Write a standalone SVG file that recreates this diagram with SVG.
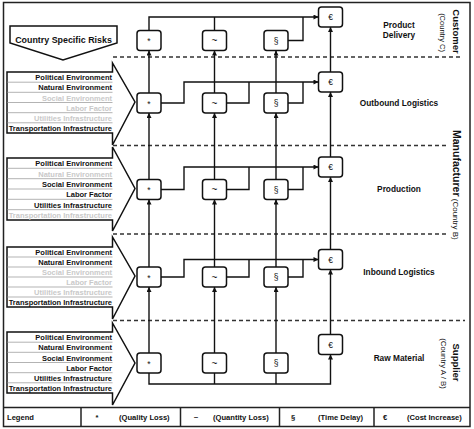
<svg xmlns="http://www.w3.org/2000/svg" width="474" height="429" viewBox="0 0 474 429">
<defs>
<style>
text{font-family:'Liberation Sans',Arial,sans-serif;fill:#111}
.frame{fill:none;stroke:#222;stroke-width:1.5}
.box{fill:#fff;stroke:#111;stroke-width:1.5}
.sym{font-size:8.5px;text-anchor:middle}
.tl{font-size:10px}
.con{fill:none;stroke:#111;stroke-width:1.4}
.dash{fill:none;stroke:#333;stroke-width:1.3;stroke-dasharray:4 3}
.arrowbody{fill:#fff;stroke:#111;stroke-width:1.5}
.sep{stroke:#aaa;stroke-width:0.9}
.risk{font-size:7.5px;font-weight:bold;text-anchor:end}
.off{fill:#c9c9c9}
.stage{font-size:8.3px;font-weight:bold;text-anchor:middle}
.leg{font-size:7.6px;font-weight:bold}
</style>
<marker id="ah" viewBox="0 0 6 6" refX="6" refY="3" markerWidth="6" markerHeight="5" markerUnits="userSpaceOnUse" orient="auto">
<path d="M0,0 L6,3 L0,6 z" fill="#111"/>
</marker>
</defs>
<rect width="474" height="429" fill="#fff"/>
<rect class="frame" x="3.5" y="2.5" width="466.5" height="424"/>

<g id="dashed-lines">
<line class="dash" x1="113" y1="57" x2="463" y2="57"/>
<line class="dash" x1="113" y1="145.5" x2="449" y2="145.5"/>
<line class="dash" x1="113" y1="234" x2="449" y2="234"/>
<line class="dash" x1="113" y1="320.5" x2="465" y2="320.5"/>
</g>

<g id="country-specific-risks">
<path class="arrowbody" d="M10,26 H117 V43 L63,60 L10,43 Z"/>
<text x="63.5" y="42.5" font-size="8.9" font-weight="bold" text-anchor="middle">Country Specific Risks</text>
</g>

<g id="risks-outbound">
<path class="arrowbody" d="M7,72 H112.5 V63 L135,102 L112.5,145 V133 H7 Z"/>
<line class="sep" x1="7.5" y1="82.2" x2="112.5" y2="82.2"/>
<line class="sep" x1="7.5" y1="92.3" x2="112.5" y2="92.3"/>
<line class="sep" x1="7.5" y1="102.5" x2="112.5" y2="102.5"/>
<line class="sep" x1="7.5" y1="112.7" x2="112.5" y2="112.7"/>
<line class="sep" x1="7.5" y1="122.8" x2="112.5" y2="122.8"/>
<text class="risk" x="112" y="80.2">Political Environment</text>
<text class="risk" x="112" y="90.3">Natural Environment</text>
<text class="risk off" x="112" y="100.5">Social Environment</text>
<text class="risk off" x="112" y="110.7">Labor Factor</text>
<text class="risk off" x="112" y="120.8">Utilities Infrastructure</text>
<text class="risk" x="112" y="131">Transportation Infrastructure</text>
</g>

<g id="risks-production">
<path class="arrowbody" d="M7,158 H112.5 V147 L135,188.5 L112.5,231 V220 H7 Z"/>
<line class="sep" x1="7.5" y1="168.3" x2="112.5" y2="168.3"/>
<line class="sep" x1="7.5" y1="178.7" x2="112.5" y2="178.7"/>
<line class="sep" x1="7.5" y1="189" x2="112.5" y2="189"/>
<line class="sep" x1="7.5" y1="199.3" x2="112.5" y2="199.3"/>
<line class="sep" x1="7.5" y1="209.7" x2="112.5" y2="209.7"/>
<text class="risk" x="112" y="166.3">Political Environment</text>
<text class="risk off" x="112" y="176.7">Natural Environment</text>
<text class="risk" x="112" y="187">Social Environment</text>
<text class="risk" x="112" y="197.3">Labor Factor</text>
<text class="risk" x="112" y="207.7">Utilities Infrastructure</text>
<text class="risk off" x="112" y="218">Transportation Infrastructure</text>
</g>

<g id="risks-inbound">
<path class="arrowbody" d="M7,247 H112.5 V237 L135,276 L112.5,319 V307 H7 Z"/>
<line class="sep" x1="7.5" y1="257" x2="112.5" y2="257"/>
<line class="sep" x1="7.5" y1="267" x2="112.5" y2="267"/>
<line class="sep" x1="7.5" y1="277" x2="112.5" y2="277"/>
<line class="sep" x1="7.5" y1="287" x2="112.5" y2="287"/>
<line class="sep" x1="7.5" y1="297" x2="112.5" y2="297"/>
<text class="risk" x="112" y="255">Political Environment</text>
<text class="risk" x="112" y="265">Natural Environment</text>
<text class="risk off" x="112" y="275">Social Environment</text>
<text class="risk off" x="112" y="285">Labor Factor</text>
<text class="risk off" x="112" y="295">Utilities Infrastructure</text>
<text class="risk" x="112" y="305">Transportation Infrastructure</text>
</g>

<g id="risks-raw">
<path class="arrowbody" d="M7,332 H112.5 V323 L135,363 L112.5,405 V393 H7 Z"/>
<line class="sep" x1="7.5" y1="342.2" x2="112.5" y2="342.2"/>
<line class="sep" x1="7.5" y1="352.3" x2="112.5" y2="352.3"/>
<line class="sep" x1="7.5" y1="362.5" x2="112.5" y2="362.5"/>
<line class="sep" x1="7.5" y1="372.7" x2="112.5" y2="372.7"/>
<line class="sep" x1="7.5" y1="382.8" x2="112.5" y2="382.8"/>
<text class="risk" x="112" y="340.2">Political Environment</text>
<text class="risk" x="112" y="350.3">Natural Environment</text>
<text class="risk" x="112" y="360.5">Social Environment</text>
<text class="risk" x="112" y="370.7">Labor Factor</text>
<text class="risk" x="112" y="380.8">Utilities Infrastructure</text>
<text class="risk" x="112" y="391">Transportation Infrastructure</text>
</g>

<g id="connectors">
<path class="con" d="M149,353 V287" marker-end="url(#ah)"/>
<path class="con" d="M149,267 V199.5" marker-end="url(#ah)"/>
<path class="con" d="M149,179.5 V113" marker-end="url(#ah)"/>
<path class="con" d="M149,93 V50.5" marker-end="url(#ah)"/>
<path class="con" d="M214.5,353 V287" marker-end="url(#ah)"/>
<path class="con" d="M214.5,267 V199.5" marker-end="url(#ah)"/>
<path class="con" d="M214.5,179.5 V113" marker-end="url(#ah)"/>
<path class="con" d="M214.5,93 V50.5" marker-end="url(#ah)"/>
<path class="con" d="M276,353 V287" marker-end="url(#ah)"/>
<path class="con" d="M276,267 V199.5" marker-end="url(#ah)"/>
<path class="con" d="M276,179.5 V113" marker-end="url(#ah)"/>
<path class="con" d="M276,93 V50.5" marker-end="url(#ah)"/>
<path class="con" d="M330.5,334.5 V269.5" marker-end="url(#ah)"/>
<path class="con" d="M330.5,249.5 V177" marker-end="url(#ah)"/>
<path class="con" d="M330.5,157 V92" marker-end="url(#ah)"/>
<path class="con" d="M330.5,72 V27" marker-end="url(#ah)"/>
<path class="con" d="M149,30.5 V17 H318.5" marker-end="url(#ah)"/>
<path class="con" d="M214.5,30.5 V17"/>
<path class="con" d="M288,40.5 H303 V17"/>
<path class="con" d="M161,103 H184 V82 H318.5" marker-end="url(#ah)"/>
<path class="con" d="M226.5,103 H249 V82"/>
<path class="con" d="M288,103 H303 V82"/>
<path class="con" d="M161,189.5 H184 V167 H318.5" marker-end="url(#ah)"/>
<path class="con" d="M226.5,189.5 H249 V167"/>
<path class="con" d="M288,189.5 H303 V167"/>
<path class="con" d="M161,277 H184 V259.5 H318.5" marker-end="url(#ah)"/>
<path class="con" d="M226.5,277 H249 V259.5"/>
<path class="con" d="M288,277 H303 V259.5"/>
<path class="con" d="M149,373 V384 H330.5 V354.5" marker-end="url(#ah)"/>
<path class="con" d="M214.5,373 V384"/>
<path class="con" d="M276,373 V384"/>
</g>

<g id="row1-boxes">
<g id="q1"><rect class="box" x="137" y="30.5" width="24" height="20" rx="3"/><text class="sym" x="149" y="44">*</text></g>
<g id="n1"><rect class="box" x="202.5" y="30.5" width="24" height="20" rx="3"/><text class="sym tl" x="214.5" y="44">~</text></g>
<g id="t1"><rect class="box" x="264" y="30.5" width="24" height="20" rx="3"/><text class="sym" x="276" y="43.5">§</text></g>
<g id="c1"><rect class="box" x="318.5" y="7" width="24" height="20" rx="3"/><text class="sym" x="330.5" y="20">€</text></g>
</g>
<g id="row2-boxes">
<g id="q2"><rect class="box" x="137" y="93" width="24" height="20" rx="3"/><text class="sym" x="149" y="106.5">*</text></g>
<g id="n2"><rect class="box" x="202.5" y="93" width="24" height="20" rx="3"/><text class="sym tl" x="214.5" y="106.5">~</text></g>
<g id="t2"><rect class="box" x="264" y="93" width="24" height="20" rx="3"/><text class="sym" x="276" y="106">§</text></g>
<g id="c2"><rect class="box" x="318.5" y="72" width="24" height="20" rx="3"/><text class="sym" x="330.5" y="85">€</text></g>
</g>
<g id="row3-boxes">
<g id="q3"><rect class="box" x="137" y="179.5" width="24" height="20" rx="3"/><text class="sym" x="149" y="193">*</text></g>
<g id="n3"><rect class="box" x="202.5" y="179.5" width="24" height="20" rx="3"/><text class="sym tl" x="214.5" y="193">~</text></g>
<g id="t3"><rect class="box" x="264" y="179.5" width="24" height="20" rx="3"/><text class="sym" x="276" y="192.5">§</text></g>
<g id="c3"><rect class="box" x="318.5" y="157" width="24" height="20" rx="3"/><text class="sym" x="330.5" y="170">€</text></g>
</g>
<g id="row4-boxes">
<g id="q4"><rect class="box" x="137" y="267" width="24" height="20" rx="3"/><text class="sym" x="149" y="280.5">*</text></g>
<g id="n4"><rect class="box" x="202.5" y="267" width="24" height="20" rx="3"/><text class="sym tl" x="214.5" y="280.5">~</text></g>
<g id="t4"><rect class="box" x="264" y="267" width="24" height="20" rx="3"/><text class="sym" x="276" y="280">§</text></g>
<g id="c4"><rect class="box" x="318.5" y="249.5" width="24" height="20" rx="3"/><text class="sym" x="330.5" y="262.5">€</text></g>
</g>
<g id="row5-boxes">
<g id="q5"><rect class="box" x="137" y="353" width="24" height="20" rx="3"/><text class="sym" x="149" y="366.5">*</text></g>
<g id="n5"><rect class="box" x="202.5" y="353" width="24" height="20" rx="3"/><text class="sym tl" x="214.5" y="366.5">~</text></g>
<g id="t5"><rect class="box" x="264" y="353" width="24" height="20" rx="3"/><text class="sym" x="276" y="366">§</text></g>
<g id="c5"><rect class="box" x="318.5" y="334.5" width="24" height="20" rx="3"/><text class="sym" x="330.5" y="347.5">€</text></g>
</g>

<g id="stage-labels">
<text class="stage" x="399" y="28.3" font-size="7.2">Product</text>
<text class="stage" x="399" y="38.3" font-size="7.2">Delivery</text>
<text class="stage" x="399" y="105.7">Outbound Logistics</text>
<text class="stage" x="399" y="192.3">Production</text>
<text class="stage" x="399" y="274.7">Inbound Logistics</text>
<text class="stage" x="399" y="360.7">Raw Material</text>
</g>

<g id="actor-labels">
<text transform="translate(452.5,31.5) rotate(90)" font-size="9.5" font-weight="bold" text-anchor="middle">Customer</text>
<text transform="translate(440,32.5) rotate(90)" font-size="7.5" text-anchor="middle">(Country C)</text>
<text transform="translate(452.5,130) rotate(90)"><tspan font-size="10.5" font-weight="bold">Manufacturer</tspan><tspan font-size="8"> (Country B)</tspan></text>
<text transform="translate(452.5,362.5) rotate(90)" font-size="9.5" font-weight="bold" text-anchor="middle">Supplier</text>
<text transform="translate(440.5,363.5) rotate(90)" font-size="7.8" text-anchor="middle">(Country A / B)</text>
</g>

<g id="legend">
<line class="frame" x1="3.5" y1="407.5" x2="470" y2="407.5"/>
<line class="frame" x1="81" y1="407.5" x2="81" y2="426.5"/>
<line class="frame" x1="180.5" y1="407.5" x2="180.5" y2="426.5"/>
<line class="frame" x1="279.5" y1="407.5" x2="279.5" y2="426.5"/>
<line class="frame" x1="374" y1="407.5" x2="374" y2="426.5"/>
<text class="leg" x="7" y="419.5">Legend</text>
<text class="leg" x="97" y="419.5" text-anchor="middle">*</text>
<text class="leg" x="119" y="419.5">(Quality Loss)</text>
<text class="leg" x="196" y="419.5" text-anchor="middle" font-size="10">~</text>
<text class="leg" x="213" y="419.5">(Quantity Loss)</text>
<text class="leg" x="293" y="419.5" text-anchor="middle">§</text>
<text class="leg" x="318" y="419.5">(Time Delay)</text>
<text class="leg" x="385" y="419.5" text-anchor="middle">€</text>
<text class="leg" x="407" y="419.5">(Cost Increase)</text>
</g>
</svg>
